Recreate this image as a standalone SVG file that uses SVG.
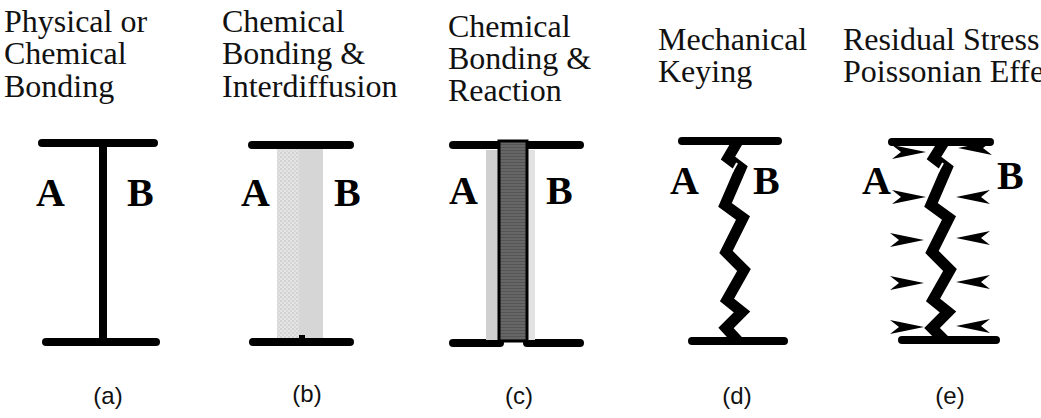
<svg xmlns="http://www.w3.org/2000/svg" width="1041" height="418" viewBox="0 0 1041 418">
<style>
.t{font-family:"Liberation Serif",serif;font-size:32px;fill:#111}
.ab{font-family:"Liberation Serif",serif;font-size:40px;font-weight:bold;fill:#000}
.cap{font-family:"Liberation Sans",sans-serif;font-size:24px;fill:#111;text-anchor:middle}
.bar{stroke:#000;stroke-width:8;stroke-linecap:round;fill:none}
.zz{stroke:#000;stroke-width:11;fill:none;stroke-linejoin:miter;stroke-miterlimit:3}
.zw{stroke:#fff;stroke-width:2;fill:none}
</style>
<defs>
<pattern id="st" width="4" height="4" patternUnits="userSpaceOnUse"><rect width="4" height="4" fill="#e4e4e4"/><circle cx="1" cy="1" r="0.8" fill="#bbb"/><circle cx="3" cy="3" r="0.8" fill="#c8c8c8"/></pattern>
<pattern id="dk" width="3" height="3" patternUnits="userSpaceOnUse"><rect width="3" height="3" fill="#666"/><rect width="3" height="1" fill="#555"/></pattern>
<path id="ar" d="M0,-7 L34,0 L0,7 L9,0 Z" fill="#000"/>
</defs>
<g id="titles">
<text class="t" x="4" y="32">Physical or</text><text class="t" x="4" y="64">Chemical</text><text class="t" x="4" y="97">Bonding</text>
<text class="t" x="222" y="32">Chemical</text><text class="t" x="222" y="64">Bonding &amp;</text><text class="t" x="222" y="97">Interdiffusion</text>
<text class="t" x="448" y="37">Chemical</text><text class="t" x="448" y="69">Bonding &amp;</text><text class="t" x="448" y="101">Reaction</text>
<text class="t" x="658" y="50">Mechanical</text><text class="t" x="658" y="82">Keying</text>
<text class="t" x="843" y="50">Residual Stress</text><text class="t" x="843" y="82">Poissonian Effect</text>
</g>
<g id="a">
<line class="bar" x1="42" y1="143" x2="154" y2="143"/><line class="bar" x1="46" y1="342" x2="156" y2="342"/>
<line x1="103" y1="143" x2="103" y2="342" stroke="#000" stroke-width="8"/>
<text class="ab" x="36" y="206">A</text><text class="ab" x="127" y="206">B</text>
</g>
<g id="b">
<rect x="277" y="146" width="22" height="195" fill="url(#st)"/><rect x="299" y="146" width="24" height="192" fill="#d6d6d6"/>
<line class="bar" x1="252" y1="145" x2="350" y2="145"/><line class="bar" x1="253" y1="342" x2="350" y2="342"/>
<rect x="299" y="335" width="6" height="6" fill="#000"/>
<text class="ab" x="241" y="206">A</text><text class="ab" x="334" y="206">B</text>
</g>
<g id="c">
<line class="bar" x1="453" y1="145" x2="580" y2="145"/><line class="bar" x1="453" y1="343" x2="500" y2="343"/><line class="bar" x1="527" y1="343" x2="580" y2="343"/>
<rect x="486" y="150" width="13" height="190" fill="#d0d0d0"/><rect x="527" y="150" width="8" height="190" fill="#e2e2e2"/>
<rect x="499" y="141" width="28" height="200" fill="url(#dk)" stroke="#000" stroke-width="3"/>
<text class="ab" x="449" y="204">A</text><text class="ab" x="546" y="204">B</text>
</g>
<g id="d">
<line class="bar" x1="682" y1="141" x2="778" y2="141"/><line class="bar" x1="692" y1="341" x2="784" y2="341"/>
<polyline class="zz" points="738,141 728,158 741,168 725,205 743,218 726,252 744,270 727,300 742,312 726,328 738,341"/>
<polyline class="zw" points="737,163 732,172 M739,212 734,222 M740,262 735,272 M738,306 733,316"/>
<text class="ab" x="670" y="194">A</text><text class="ab" x="753" y="194">B</text>
</g>
<g id="e">
<line class="bar" x1="892" y1="142" x2="990" y2="142"/><line class="bar" x1="902" y1="340" x2="996" y2="340"/>
<polyline class="zz" points="944,142 934,158 947,168 931,205 949,218 932,252 950,270 933,300 948,312 932,328 944,340"/>
<polyline class="zw" points="943,163 938,172 M945,212 940,222 M946,262 941,272 M944,306 939,316"/>
<use href="#ar" x="892" y="152"/><use href="#ar" x="892" y="197"/><use href="#ar" x="890" y="240"/><use href="#ar" x="890" y="283"/><use href="#ar" x="890" y="327"/>
<use href="#ar" transform="translate(992,148) scale(-1,1)"/><use href="#ar" transform="translate(990,197) scale(-1,1)"/><use href="#ar" transform="translate(990,238) scale(-1,1)"/><use href="#ar" transform="translate(990,282) scale(-1,1)"/><use href="#ar" transform="translate(990,326) scale(-1,1)"/>
<text class="ab" x="862" y="194">A</text><text class="ab" x="997" y="189">B</text>
</g>
<g id="captions">
<text class="cap" x="108" y="404">(a)</text><text class="cap" x="307" y="402">(b)</text><text class="cap" x="519" y="404">(c)</text><text class="cap" x="737" y="404">(d)</text><text class="cap" x="950" y="404">(e)</text>
</g>
</svg>
